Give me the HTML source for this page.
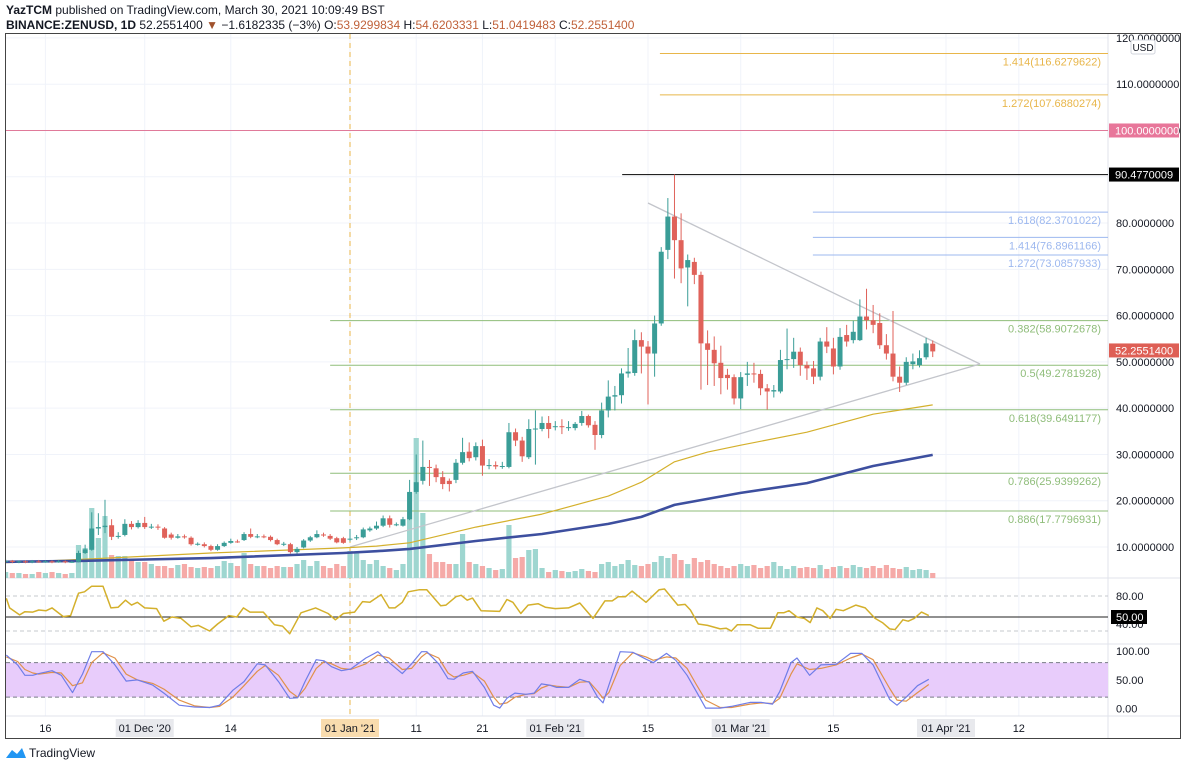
<!DOCTYPE html>
<html><head><meta charset="utf-8">
<style>
html,body{margin:0;padding:0;background:#fff;}
body{width:1186px;height:768px;overflow:hidden;font-family:"Liberation Sans",sans-serif;}
svg text{font-family:"Liberation Sans",sans-serif;}
</style></head>
<body>
<svg id="chart" width="1186" height="768" viewBox="0 0 1186 768" xmlns="http://www.w3.org/2000/svg">
  <text x="6" y="14" font-size="12" fill="#131722"><tspan font-weight="bold">YazTCM</tspan> published on TradingView.com, March 30, 2021 10:09:49 BST</text>
  <text x="6" y="29" font-size="12" fill="#131722"><tspan font-weight="bold">BINANCE:ZENUSD, 1D</tspan> 52.2551400 <tspan fill="#a0522d">▼</tspan> −1.6182335 (−3%) O:<tspan fill="#c0613a">53.9299834</tspan> H:<tspan fill="#c0613a">54.6203331</tspan> L:<tspan fill="#c0613a">51.0419483</tspan> C:<tspan fill="#c0613a">52.2551400</tspan></text>
  <g id="grid"></g>
  <g id="plot" clip-path="url(#clipPlot)"></g>
  <g id="axes"></g>
  <defs><clipPath id="clipPlot"><rect x="6" y="34" width="1102" height="682"/></clipPath></defs>
  <rect x="5.5" y="33.5" width="1175" height="705" fill="none" stroke="#444" stroke-width="1"/>
  <g>
    <path d="M6 758 L12 750 L17 754 L22 748 L26 758 Z" fill="#2196f3"/>
    <text x="29" y="757" font-size="12" fill="#131722">TradingView</text>
  </g>
</svg>
<script>
// ---- data (day index: 0 = 1 Nov 2020) ----
const firstDay = 9;
const opens  = [6.9,7.0,6.8,6.9,6.7,6.9,6.8,6.9,6.8,6.9,6.8, 6.8,8.7,9.4,14.0,14.3,14.7,12.2,12.6,15.0,14.3, 15.2,14.3,14.4,14.0,12.7,12.0,12.3,12.0,10.6,10.6, 10.2,9.4,10.2,10.9,11.2,11.5,12.8,12.2,12.3,12.2, 11.5,10.6,10.6,8.9,9.9,11.4,12.1,12.7,12.4,11.9, 11.9,11.7,11.9,12.1,13.6,14.0,14.6,16.2,14.8,14.6, 16.0,21.9,24.3,27.3,27.0,25.1,24.3,24.5,28.2,30.6, 29.4,31.8,27.6,27.7,27.4,27.3,34.8,33.0,29.4,35.5, 35.5,36.8,35.9,36.1,35.8,35.7,36.8,38.3,36.4,34.2, 39.5,42.5,42.8,47.5,47.6,54.7,53.3,51.8,58.3,74.2, 81.4,76.3,70.4,71.6,68.8,54.0,52.6,49.8,47.2,46.7, 42.1,47.2,47.5,47.4,44.3,43.6,43.6,50.6,50.6,52.2, 49.3,48.6,46.8,54.4,52.9,49.0,55.8,54.7,54.7,59.8, 59.0,58.4,53.6,51.8,46.8,45.5,49.5,49.3,51.0,53.93];
const closes = [7.0,6.8,6.9,6.7,6.9,6.8,6.9,6.8,6.9,6.8,6.8, 8.7,9.5,14.0,14.3,14.6,12.2,12.4,15.0,14.3,15.2, 14.3,14.4,14.2,12.0,12.0,12.3,12.2,10.6,10.7,10.2, 9.4,10.2,10.9,11.3,11.1,12.8,12.2,12.3,12.2,11.5, 10.6,10.7,8.9,9.6,11.4,12.1,12.8,12.6,11.8,11.0, 10.9,11.8,12.1,13.8,14.0,14.6,16.2,14.8,14.9,16.0, 21.9,24.0,27.3,27.1,25.1,23.6,23.6,28.2,30.5,29.2, 31.8,27.6,27.7,27.4,27.5,34.8,33.0,29.6,35.5,35.6, 36.8,35.5,36.1,36.0,35.9,36.6,38.3,36.3,34.2,39.5, 42.5,42.8,47.5,47.9,54.7,53.3,51.8,58.3,73.8,81.4, 76.3,70.2,72.0,68.8,54.0,52.6,49.7,46.5,46.5,42.1, 46.7,47.5,47.4,44.3,43.6,43.9,50.4,50.6,52.2,49.3, 48.6,46.8,54.4,53.3,49.0,55.4,54.4,56.5,59.8,59.0, 58.0,53.6,51.8,46.8,45.5,50.0,50.1,50.8,54.0,52.26];
const highs  = [7.3,7.2,7.1,7.1,7.2,7.2,7.1,7.1,7.2,7.1,7.0, 9.2,10.5,17.5,17.3,20.2,16.0,13.2,16.0,15.6,15.8, 16.5,15.0,14.9,14.3,13.1,12.8,12.7,12.3,11.0,11.0, 10.5,10.6,11.2,11.8,11.6,13.2,14.0,12.8,12.7,12.5, 11.8,11.1,10.9,10.0,11.7,12.4,13.6,13.1,12.8,12.2, 12.2,13.9,12.6,14.2,14.4,15.5,16.8,16.8,15.3,16.5, 24.5,30.0,33.0,28.8,27.8,26.4,24.8,29.0,33.6,32.6, 32.6,33.2,29.0,28.5,28.4,36.8,35.6,33.8,37.6,39.5, 38.2,38.3,37.2,37.6,37.2,37.0,39.4,38.6,37.2,41.2, 46.0,44.8,48.6,53.0,57.0,56.4,54.5,60.0,74.8,85.4, 90.5,82.1,73.2,72.5,69.5,56.8,55.5,53.5,48.5,47.3, 47.8,50.0,49.8,48.3,45.2,45.0,52.6,57.2,55.2,53.1, 50.1,50.2,55.2,57.5,55.2,57.3,58.0,58.9,63.5,65.8, 62.3,60.5,56.0,61.0,49.0,51.0,51.8,52.5,55.2,54.62];
const lows   = [6.6,6.5,6.5,6.5,6.5,6.6,6.6,6.5,6.6,6.5,6.6, 6.7,8.5,9.2,12.6,13.0,11.5,11.8,12.3,13.8,14.0, 13.9,13.9,13.7,11.8,11.6,11.8,11.8,10.3,10.3,9.9, 9.1,9.2,10.0,10.7,10.9,11.3,11.9,11.9,11.9,11.2, 10.4,10.2,8.6,8.6,9.7,11.1,11.9,12.2,11.5,10.8, 10.7,11.2,11.5,11.9,13.3,13.7,14.3,14.2,14.5,14.4, 15.8,21.5,23.5,23.2,24.0,22.5,22.0,23.8,27.8,28.5, 28.7,25.4,26.8,26.8,26.9,27.0,31.8,28.4,29.0,27.8, 35.0,33.5,35.2,34.4,35.1,35.2,36.2,35.8,31.0,33.5, 38.0,39.5,41.0,46.6,47.0,47.5,40.8,46.8,57.8,72.2, 68.0,67.0,62.0,66.8,44.0,45.0,44.8,43.0,44.0,40.8, 39.8,44.8,45.5,42.8,39.7,42.3,43.2,48.4,48.7,47.0, 46.1,45.2,46.0,51.9,47.3,48.3,53.3,54.0,54.5,57.0, 56.2,52.8,50.5,45.8,43.5,45.0,48.4,48.8,50.5,51.04];
const volumes = [6,5,5,4,4,6,5,6,5,4,5, 33,30,70,40,62,23,22,22,18,16, 16,14,12,12,10,13,14,11,10,11, 10,12,17,15,12,25,14,12,12,10, 12,11,11,14,18,12,17,12,10,14, 12,27,25,18,14,18,12,10,8,14, 85,140,65,24,16,16,14,14,44,16, 14,12,10,8,9,53,20,21,28,29, 10,6,8,7,6,7,9,7,6,14, 16,12,14,18,13,12,14,16,22,20, 24,18,14,20,16,18,14,12,10,12, 14,12,13,10,12,16,12,9,12,10, 11,10,13,9,11,12,10,13,11,10, 12,10,13,10,9,11,8,9,8,5];
const maDays = [9,20,40,60,65,70,80,90,100,105,110,115,120,130,140,149];
const maSlow = [6.8,7.0,7.6,8.7,9.1,9.6,11.3,12.8,15.0,16.5,19.1,20.4,21.7,23.8,27.5,29.9];
const maFast = [6.6,7.3,8.7,9.8,10.2,10.9,14.3,17.1,21.0,24.0,28.4,30.5,32.0,34.8,38.7,40.7];
const rsiDays = [9.1,9.6,11.1,11.9,13.1,14,15.1,16,17.7,18.8,20,20.9,22,23.7,24.9,26,27.1,28,28.9,30,31.8,32.9,34.1,35.5,37,38.1,39.8,41,42.7,43.9,44.9,45.9,47.9,49.6,50.8,51.9,53.6,55.8,57.7,58.8,60,61.7,62.9,64,65.7,66.9,67.8,68.9,69.8,71.5,72.6,74.7,75.5,77,77.8,78.7,79.5,80.8,83.6,84.7,85.6,86.8,87.9,89.4,90.5,92,94,95.7,97.7,99.5,100.6,101.5,102.6,103.6,105.7,107.7,108.5,110.5,111.6,112.4,113.6,115,116.9,117.8,118.6,119.5,121.4,122.6,124.5,125.6,126.5,127.3,128.5,129.6,130.5,131.5,132.4,133.5,134.4,135.5,137.4,138.8,140.3,141.4,142.5,143.3,144.5,145.3,146.2,147.3,148.4];
const rsiVals = [76.7,63,53,57.6,57,60,59,63,50.5,52,84,86,94,94,63,64,74,67,71,63,62,44,50,48,36,38,30,40,52,50,63,57,57,39,37,26,56,63,55,46,55,57,72,71,82,63,63,71,86,89,89,66,67,79,81,74,77,59,58,75,71,55,67,69,64,62,63,70,48,73,73,79,79,87,71,89,90,67,68,60,40,38,33,34,30,39,39,34,34,56,56,59,50,48,42,63,59,48,61,59,67,63,48,42,33,32,46,44,48,57,52];
const stochDays = [9.1,10.8,11.9,13.1,14,16,17.4,19.1,20.6,22,23.7,25.5,27.2,28.9,31.2,32.9,35.2,37.5,39.8,41.3,43.3,45,47,48.2,50.2,51.9,53.1,54.2,55.9,57.1,58.2,59.7,61.1,63.4,65.2,66.9,68.9,70.3,71.8,72.6,74.4,75.8,76.7,78.1,79.5,81.3,82.7,83.6,84.7,85.9,87.6,88.8,89.9,91.1,92.2,94,95.7,97.1,98.4,99.2,100.1,101.8,103.7,105.7,106.8,108.8,110.2,111.9,113.3,114.7,116.9,118.6,121.4,123.1,124.8,125.9,127.6,128.5,130.4,132.1,134.4,136.6,138.3,140,142.5,143.6,145,146.7,148.4];
const stochK = [93,76,58,58,61,66,58,28,60,99,99,76,48,50,41,27,6,3,2,6,32,47,78,76,47,18,19,47,85,83,73,66,69,88,99,80,61,78,99,99,78,52,51,62,65,37,6,1,18,27,25,27,43,41,37,37,51,46,20,10,41,99,98,86,80,96,84,58,30,1,1,4,11,11,8,30,80,88,58,76,77,96,96,76,16,6,20,40,51];
const stochD = [90,82,68,62,60,63,62,40,45,80,97,88,60,50,44,34,15,5,2,4,20,40,65,75,58,30,20,35,70,82,78,70,68,78,93,88,68,70,90,97,88,62,55,58,63,48,20,8,10,20,25,26,36,41,39,37,46,47,30,18,28,75,97,90,84,90,88,70,42,15,2,2,8,10,9,18,60,78,68,70,76,88,95,85,35,15,13,28,42];
const priceTicks = [120,110,100,90,80,70,60,50,40,30,20,10];
const dateTickDays = [15,30,43,61,71,81,92,106,120,134,151,162];
const dateTickLabels = ["16","01 Dec '20","14","01 Jan '21","11","21","01 Feb '21","15","01 Mar '21","15","01 Apr '21","12"];
const fibLevels = [116.6279622,107.6880274,82.3701022,76.8961166,73.0857933,58.9072678,49.2781928,39.6491177,25.9399262,17.7796931];
const fibRatios = ["1.414","1.272","1.618","1.414","1.272","0.382","0.5","0.618","0.786","0.886"];
const fibStartDays = [107.8,107.8,130.9,130.9,130.9,58,58,58,58,58];
const fibColors = ["#e8b64a","#e8b64a","#9db8ef","#9db8ef","#9db8ef","#8fbd7a","#8fbd7a","#8fbd7a","#8fbd7a","#8fbd7a"];
const highLevelStartDay = 102.1;
const lastPrice = 52.2551400;

// ---- axis functions ----
const X0 = 350, D0 = 61, PXD = 6.622;
function xOf(d){ return X0 + (d - D0) * PXD; }
function yOf(p){ return 547 - (p - 10) * 4.628; }
function volY(v){ return 578 - v; }
function rsiY(v){ return 617 - (v - 50) * 0.7; }
function stY(v){ return 708.7 - v * 0.576; }
const AXIS_X = 1108;
const NS = "http://www.w3.org/2000/svg";
function mk(parent, tag, attrs, text){
  const el = document.createElementNS(NS, tag);
  for (const k in attrs) el.setAttribute(k, attrs[k]);
  if (text !== undefined) el.textContent = text;
  parent.appendChild(el);
  return el;
}
const grid = document.getElementById('grid');
const plot = document.getElementById('plot');
const axes = document.getElementById('axes');

priceTicks.forEach(p => {
  const g = mk(grid, 'line', {x1:6, x2:AXIS_X, y1:yOf(p), y2:yOf(p), stroke:'#f0f3fa', 'stroke-width':1});
  
  
});
dateTickDays.forEach(d => {
  const g = mk(grid, 'line', {x1:xOf(d), x2:xOf(d), y1:34, y2:716, stroke:'#f0f3fa', 'stroke-width':1});
  
  
});
[578, 644].forEach(yv => {
  const s = mk(grid, 'line', {x1:6, x2:1180, y1:yv, y2:yv, stroke:'#e0e3eb', 'stroke-width':1});
  
  
});
const axl = mk(grid, 'line', {x1:AXIS_X, x2:AXIS_X, y1:34, y2:738, stroke:'#e0e3eb', 'stroke-width':1});


const xal = mk(grid, 'line', {x1:6, x2:1180, y1:716, y2:716, stroke:'#e0e3eb', 'stroke-width':1});



const sess = mk(plot, 'line', {x1:xOf(61), x2:xOf(61), y1:34, y2:716, stroke:'#e8b64a', 'stroke-width':1, 'stroke-dasharray':'5,4'});



volumes.forEach((v, i) => {
  const up = closes[i] >= opens[i];
  const b = mk(plot, 'rect', {x:xOf(firstDay+i)-2.6, y:volY(v), width:5.2, height:578-volY(v), fill: up ? '#9ed6d0' : '#f5aaa8'});
  
  
});

const band = mk(plot, 'rect', {x:6, y:stY(80), width:AXIS_X-6, height:stY(20)-stY(80), fill:'#e8ccfb'});


[80,20].forEach(v => {
  const l = mk(plot, 'line', {x1:6, x2:AXIS_X, y1:stY(v), y2:stY(v), stroke:'#787b86', 'stroke-width':1, 'stroke-dasharray':'4,3'});
  
  
});
[80,30].forEach(v => {
  const l = mk(plot, 'line', {x1:6, x2:AXIS_X, y1:rsiY(v), y2:rsiY(v), stroke:'#c6c8ce', 'stroke-width':1, 'stroke-dasharray':'4,3'});
  
  
});
const mid = mk(plot, 'line', {x1:6, x2:AXIS_X, y1:rsiY(50), y2:rsiY(50), stroke:'#222', 'stroke-width':1});



function poly(days, vals, fy, color, w, name){
  const pts = days.map((d, i) => xOf(d).toFixed(1) + ',' + fy(vals[i]).toFixed(1)).join(' ');
  const p = mk(plot, 'polyline', {points:pts, fill:'none', stroke:color, 'stroke-width':w, 'stroke-linejoin':'round'});
  
  
}
poly(rsiDays, rsiVals, rsiY, '#d4b02c', 1.5, 'rsi-line');
poly(stochDays, stochD, stY, '#e0914a', 1.2, 'stoch-d-line');
poly(stochDays, stochK, stY, '#6f7de8', 1.2, 'stoch-k-line');

fibLevels.forEach((lv, i) => {
  const l = mk(plot, 'line', {x1:xOf(fibStartDays[i]), x2:AXIS_X, y1:yOf(lv), y2:yOf(lv), stroke:fibColors[i], 'stroke-width':1});
  
  
  const t = mk(plot, 'text', {x:1101, y:yOf(lv)+12, 'font-size':11, fill:fibColors[i], 'text-anchor':'end'}, fibRatios[i] + '(' + lv.toFixed(7) + ')');
  
  
});
const l100 = mk(plot, 'line', {x1:6, x2:AXIS_X, y1:yOf(100), y2:yOf(100), stroke:'#e07a9a', 'stroke-width':1});


const lHigh = mk(plot, 'line', {x1:xOf(highLevelStartDay), x2:AXIS_X, y1:yOf(90.4770009), y2:yOf(90.4770009), stroke:'#222', 'stroke-width':1.2});



const tri1 = mk(plot, 'line', {x1:xOf(106), y1:203, x2:980, y2:364, stroke:'#c3c5cb', 'stroke-width':1.3});


const tri2 = mk(plot, 'line', {x1:xOf(61), y1:547, x2:980, y2:364, stroke:'#c3c5cb', 'stroke-width':1.3});



poly(maDays, maFast, yOf, '#d4b02c', 1.2, 'ma-fast-line');
poly(maDays, maSlow, yOf, '#3d4f9f', 2.6, 'ma-slow-line');

opens.forEach((o, i) => {
  const c = closes[i], x = xOf(firstDay+i);
  const up = c >= o;
  const col = up ? '#3a9d97' : '#e0625a';
  const w = mk(plot, 'line', {x1:x, x2:x, y1:yOf(highs[i]), y2:yOf(lows[i]), stroke:col, 'stroke-width':1});
  
  
  const top = yOf(Math.max(o, c)), bot = yOf(Math.min(o, c));
  const b = mk(plot, 'rect', {x:x-2.5, y:top, width:5, height:Math.max(1, bot-top), fill:col});
  
  
});

priceTicks.forEach(p => {
  const t = mk(axes, 'text', {x:1116, y:yOf(p)+4, 'font-size':11, fill:'#131722'}, p.toFixed(7));
  
  
});
const usd = mk(axes, 'rect', {x:1131, y:40, width:24, height:14, fill:'#fff', stroke:'#d1d4dc', rx:2});


const usdT = mk(axes, 'text', {x:1143, y:51, 'font-size':10, fill:'#131722', 'text-anchor':'middle'}, 'USD');



function badge(yv, txt, bg, fg, name){
  const r = mk(axes, 'rect', {x:AXIS_X+1, y:yv-7, width:70, height:14, fill:bg});
  
  
  const t = mk(axes, 'text', {x:AXIS_X+7, y:yv+4, 'font-size':11, fill:fg}, txt);
  
  
}
badge(yOf(100), '100.0000000', '#e8769a', '#fff', 'level-100-label');
badge(yOf(90.4770009), '90.4770009', '#000', '#fff', 'high-level-label');
badge(yOf(lastPrice)-1, lastPrice.toFixed(7), '#de5f55', '#fff', 'last-price-label');

[[80,'80.00'],[40,'40.00']].forEach(a => {
  const t = mk(axes, 'text', {x:1116, y:rsiY(a[0])+4, 'font-size':11, fill:'#131722'}, a[1]);
  
  
});
const rb = mk(axes, 'rect', {x:AXIS_X+3, y:rsiY(50)-7, width:36, height:14, fill:'#000'});


const rt = mk(axes, 'text', {x:1116, y:rsiY(50)+4, 'font-size':11, fill:'#fff'}, '50.00');


[[100,'100.00'],[50,'50.00'],[0,'0.00']].forEach(a => {
  const t = mk(axes, 'text', {x:1116, y:stY(a[0])+4, 'font-size':11, fill:'#131722'}, a[1]);
  
  
});

dateTickDays.forEach((d, i) => {
  const lab = dateTickLabels[i];
  const x = xOf(d);
  if (lab.length > 3) {
    const isJan = d === 61;
    const r = mk(axes, 'rect', {x:x-29, y:719, width:58, height:18, fill: isJan ? '#f9dcae' : '#e8e9ed'});
    
    
  }
  const t = mk(axes, 'text', {x:x, y:732, 'font-size':11, fill:'#131722', 'text-anchor':'middle'}, lab);
  
  
});
</script>
</body></html>
